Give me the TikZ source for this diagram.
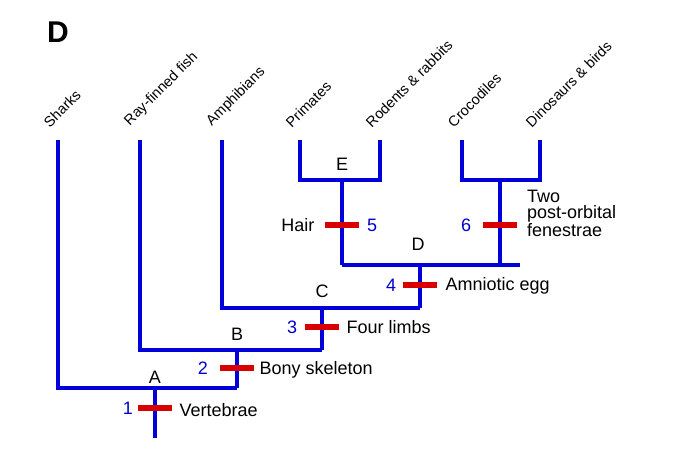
\documentclass[tikz,border=0pt]{standalone}
\usepackage{fontspec}
\setmainfont{Liberation Sans}
\begin{document}
\begin{tikzpicture}[x=1pt,y=-1pt,
  br/.style={draw=blue!85!black,line width=4.5pt},
  tick/.style={draw=red!85!black,line width=6pt},
  lab/.style={font=\fontsize{18}{18}\selectfont},
  num/.style={font=\fontsize{18}{18}\selectfont,text=blue!80!black},
  taxon/.style={font=\fontsize{14.5}{14.5}\selectfont,rotate=45,anchor=south west,inner sep=1pt}]
\useasboundingbox (0,0) rectangle (700,463);
\node[font=\fontsize{30}{30}\selectfont\bfseries] (title) at (58,32) {D};
% taxa
\foreach \n/\x/\t in {sh/58/Sharks,rf/140/Ray-finned fish,am/222/Amphibians,pr/300/Primates,ro/380/Rodents \& rabbits,cr/462/Crocodiles,di/540/Dinosaurs \& birds}{
  \coordinate (\n) at (\x,140);
  \node[taxon] (t\n) at (\x-8,130) {\t};
}
\coordinate (root) at (155,438);
\coordinate (A) at (155,388);
\coordinate (B) at (237,350);
\coordinate (C) at (322,308);
\coordinate (D) at (420,265);
\coordinate (E) at (342,180);
\coordinate (F) at (500,180);
\draw[br] (sh) |- (A |- 0,388) -- (237,388);
\draw[br] (root) -- (A);
\draw[br] (rf) |- (B) -- (322,350);
\draw[br] (237,388) -- (B);
\draw[br] (am) |- (C) -- (420,308);
\draw[br] (322,350) -- (C);
\draw[br] (342,265) -- (520,265);
\draw[br] (420,308) -- (D);
\draw[br] (pr) |- (E) -- (380,180) -- (ro);
\draw[br] (E) -- (342,265);
\draw[br] (cr) |- (F) -- (540,180) -- (di);
\draw[br] (F) -- (500,265);
% ticks
\foreach \x/\y in {155/408,237/368,322/327,420/285,342/225,500/225}
  \draw[tick] (\x-17,\y) -- (\x+17,\y);
% node letters
\node[lab] (lA) at (155,377) {A};
\node[lab] (lB) at (237,334) {B};
\node[lab] (lC) at (322,291) {C};
\node[lab] (lD) at (418,244) {D};
\node[lab] (lE) at (342,164) {E};
% numbers
\node[num] (n1) at (128,408) {1};
\node[num] (n2) at (203,368) {2};
\node[num] (n3) at (292,327) {3};
\node[num] (n4) at (391,285) {4};
\node[num] (n5) at (372,225) {5};
\node[num] (n6) at (466,225) {6};
% characters
\node[lab,anchor=west] (c1) at (176,410) {Vertebrae};
\node[lab,anchor=west] (c2) at (256,370) {Bony skeleton};
\node[lab,anchor=west] (c3) at (343,327) {Four limbs};
\node[lab,anchor=west] (c4) at (442,286) {Amniotic egg};
\node[lab,anchor=east] (c5) at (318,225) {Hair};
\node[lab,anchor=north west,align=left,inner sep=0pt,font=\fontsize{18}{16}\selectfont] (c6) at (527,190) {Two\\post-orbital\\fenestrae};
\end{tikzpicture}
\end{document}
